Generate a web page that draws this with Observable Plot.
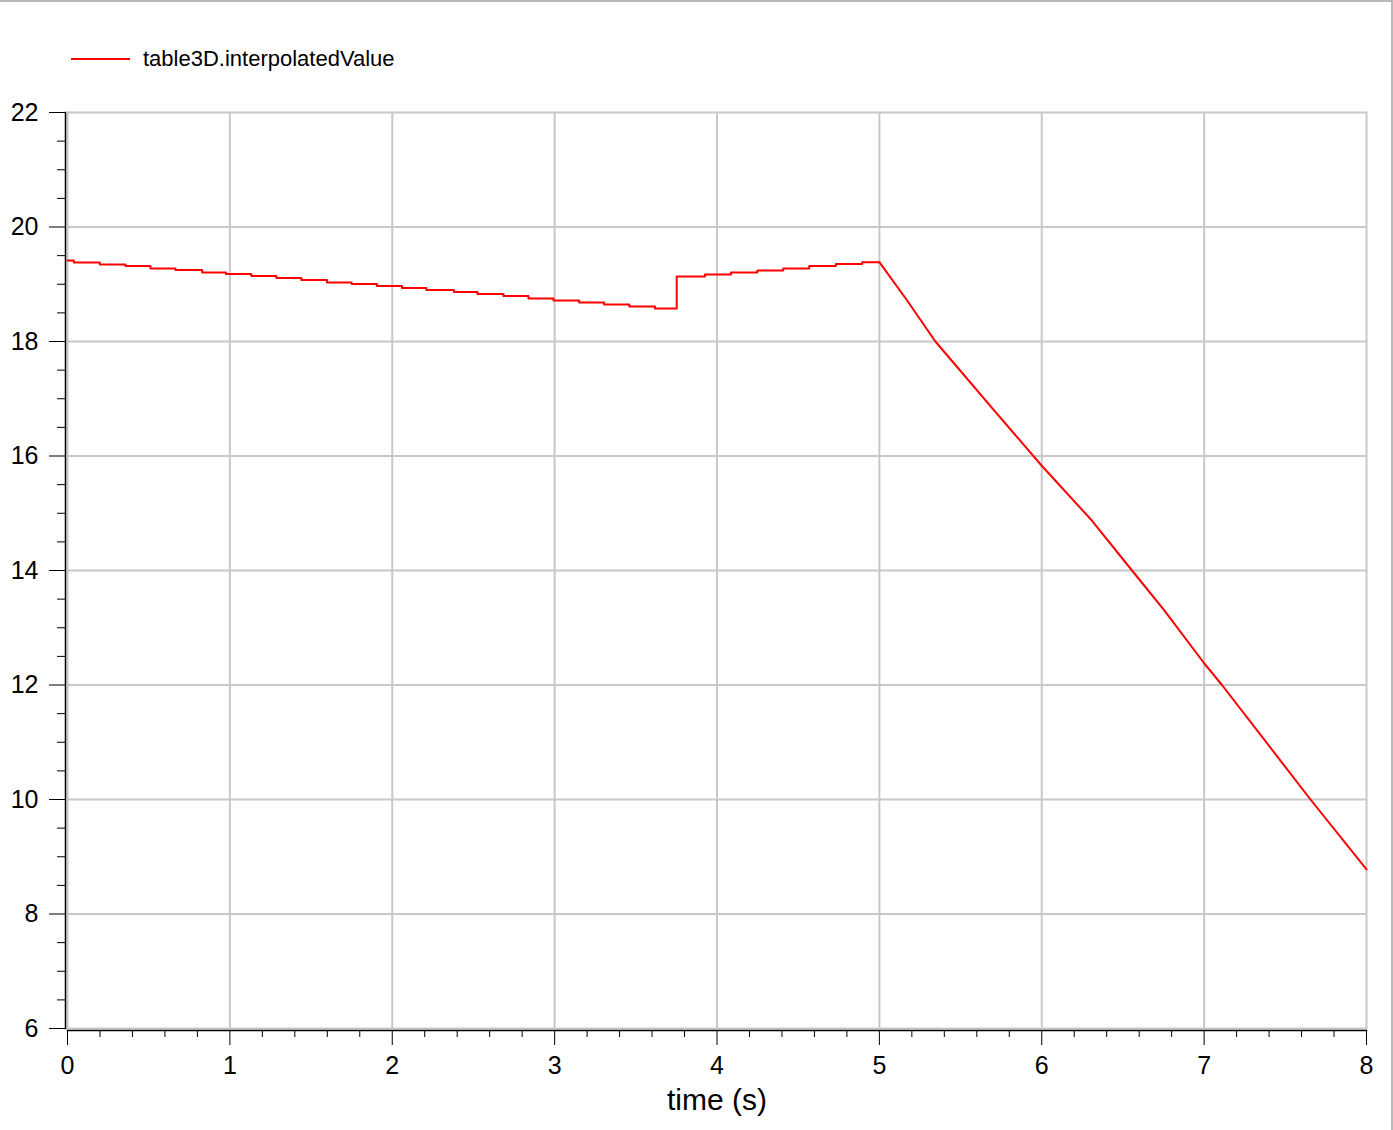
<!DOCTYPE html>
<html>
<head>
<meta charset="utf-8">
<script src="https://cdn.jsdelivr.net/npm/d3@7"></script>
<script src="https://cdn.jsdelivr.net/npm/@observablehq/plot@0.6"></script>
<style>
  body { margin: 0; background: #fff; }
  #wrap { width: 1391px; height: 1128px; border-top: 2px solid #b9b9b9; border-right: 2px solid #b9b9b9; position: relative; font-family: "Liberation Sans", Arial, sans-serif; }
  #legend { height: 88px; position: relative; }
  #legend .sw { position: absolute; left: 71px; top: 56px; width: 59px; height: 2px; background: #ff0000; }
  #legend .lab { position: absolute; left: 143px; top: 46px; font-size: 22px; line-height: 22px; color: #000; white-space: nowrap; }
  svg { display: block; }
</style>
</head>
<body>
<div id="wrap">
  <div id="legend"><div class="sw"></div><div class="lab" id="seriesName"></div></div>
  <div id="chart"></div>
</div>
<script>
// ---- data ----
const seriesName = "table3D.interpolatedValue";
const xLabel = "time (s)";

// stepped section (value holds until next time)
const stepTimes = [0, 0.039, 0.199, 0.357, 0.511, 0.665, 0.829, 0.976, 1.132, 1.286, 1.44, 1.598, 1.75, 1.906, 2.06, 2.21, 2.38, 2.525, 2.685, 2.839, 2.993, 3.151, 3.305, 3.46, 3.618, 3.752, 3.926, 4.086, 4.248, 4.408, 4.568, 4.732, 4.894, 5.0];
const stepValues = [19.415, 19.38, 19.345, 19.317, 19.275, 19.247, 19.205, 19.177, 19.143, 19.107, 19.073, 19.03, 19.003, 18.968, 18.933, 18.898, 18.863, 18.828, 18.793, 18.75, 18.716, 18.68, 18.646, 18.61, 18.576, 19.135, 19.17, 19.205, 19.24, 19.275, 19.317, 19.352, 19.385, 19.385];

// descending section after t = 5 s
const rampTimes = [5.0, 5.17, 5.345, 5.5, 5.7, 6.0, 6.3, 6.556, 6.75, 7.0, 7.11, 7.655, 8.0];
const rampValues = [19.385, 18.72, 18.0, 17.485, 16.82, 15.83, 14.9, 14.0, 13.32, 12.38, 12.0, 10.0, 8.78];

// axes
const xMajor = [0, 1, 2, 3, 4, 5, 6, 7, 8];
const xMinor = [0.2, 0.4, 0.6, 0.8, 1.2, 1.4, 1.6, 1.8, 2.2, 2.4, 2.6, 2.8, 3.2, 3.4, 3.6, 3.8, 4.2, 4.4, 4.6, 4.8, 5.2, 5.4, 5.6, 5.8, 6.2, 6.4, 6.6, 6.8, 7.2, 7.4, 7.6, 7.8];
const yMajor = [6, 8, 10, 12, 14, 16, 18, 20, 22];
const yMinor = [6.5, 7, 7.5, 8.5, 9, 9.5, 10.5, 11, 11.5, 12.5, 13, 13.5, 14.5, 15, 15.5, 16.5, 17, 17.5, 18.5, 19, 19.5, 20.5, 21, 21.5];

document.getElementById("seriesName").textContent = seriesName;

const stepData = stepTimes.map((t, i) => ({t, v: stepValues[i]}));
const rampData = rampTimes.map((t, i) => ({t, v: rampValues[i]}));

const gridColor = "#c8c8c8";

const chart = Plot.plot({
  width: 1391,
  height: 1040,
  marginTop: 22,
  marginBottom: 102,
  marginLeft: 67,
  marginRight: 25,
  x: {domain: [0, 8]},
  y: {domain: [6, 22]},
  style: {fontFamily: "'Liberation Sans', Arial, sans-serif", fontSize: "25px", color: "#000", background: "#fff", overflow: "visible"},
  marks: [
    Plot.gridX(xMajor.slice(1, -1), {stroke: gridColor, strokeOpacity: 1, strokeWidth: 2}),
    Plot.gridY(yMajor.slice(1, -1), {stroke: gridColor, strokeOpacity: 1, strokeWidth: 2}),
    Plot.frame({stroke: gridColor, strokeWidth: 2}),
    Plot.frame({anchor: "left", stroke: "#000", strokeWidth: 1.5, dx: -2}),
    Plot.frame({anchor: "bottom", stroke: "#000", strokeWidth: 1.5, dy: 2}),
    Plot.axisY({ticks: yMinor, tickSize: 8, tickFormat: () => "", dx: -2, label: null}),
    Plot.axisY({ticks: yMajor, tickSize: 16, tickPadding: 11, dx: -2, label: null, fontSize: 25, tickFormat: d => String(d)}),
    Plot.axisX({ticks: xMinor, tickSize: 7, tickFormat: () => "", dy: 2, label: null}),
    Plot.axisX({ticks: xMajor, tickSize: 15, tickPadding: 11, dy: 2, label: null, fontSize: 25, tickFormat: d => String(d)}),
    Plot.text([xLabel], {frameAnchor: "bottom", dy: 72, lineAnchor: "middle", fontSize: 30, fill: "#000"}),
    Plot.line(stepData, {x: "t", y: "v", curve: "step-after", stroke: "#ff0000", strokeWidth: 2}),
    Plot.line(rampData, {x: "t", y: "v", stroke: "#ff0000", strokeWidth: 2})
  ]
});
document.getElementById("chart").appendChild(chart);
</script>
</body>
</html>
